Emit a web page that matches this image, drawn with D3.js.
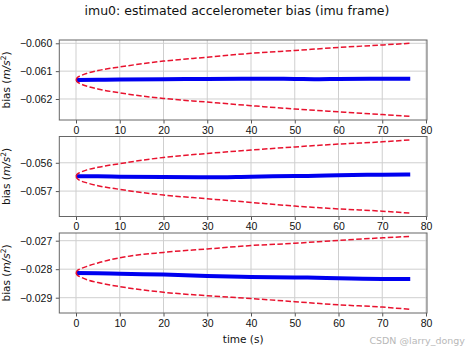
<!DOCTYPE html>
<html>
<head>
<meta charset="utf-8">
<script src="https://cdn.jsdelivr.net/npm/d3@7"></script>
<style>
  body { margin: 0; background: #fff; }
  svg { display: block; font-family: "DejaVu Sans", sans-serif; }
  .tick text { font-size: 10.5px; fill: #111; }
  .tick line { stroke: #555; }
  .grid line { stroke: #cfcfcf; stroke-width: 1; }
  .frame { fill: none; stroke: #666; stroke-width: 1; }
</style>
</head>
<body>
<svg id="chart" width="474" height="351"></svg>
<script>
/*** DATA ***/

// sample times for the estimate (blue) and the +/- bounds (red)
const tBlue = [0, 5, 10, 20, 30, 40, 50, 55, 60, 70, 76.4];
const tRed  = [0, 0.3, 1, 2.5, 5, 10, 20, 30, 40, 50, 60, 70, 76.4];

// axis 0
const est0   = [-0.06132, -0.06131, -0.06130, -0.06129, -0.06128, -0.06127, -0.06128, -0.06129, -0.06128, -0.06127, -0.06127];
const upper0 = [-0.06131, -0.06123, -0.06117, -0.06108, -0.06098, -0.06085, -0.06064, -0.06050, -0.06036, -0.06026, -0.06015, -0.06006, -0.06000];
const lower0 = [-0.06131, -0.06139, -0.06145, -0.06154, -0.06164, -0.06178, -0.06198, -0.06211, -0.06224, -0.06236, -0.06246, -0.06256, -0.06262];

// axis 1
const est1   = [-0.05648, -0.05648, -0.05649, -0.05650, -0.05651, -0.05649, -0.05647, -0.05646, -0.05644, -0.05642, -0.05641];
const upper1 = [-0.05648, -0.05640, -0.05634, -0.05625, -0.05616, -0.05603, -0.05581, -0.05567, -0.05555, -0.05544, -0.05534, -0.05526, -0.05519];
const lower1 = [-0.05648, -0.05656, -0.05663, -0.05671, -0.05681, -0.05694, -0.05714, -0.05727, -0.05740, -0.05753, -0.05763, -0.05771, -0.05778];

// axis 2
const est2   = [-0.02813, -0.02814, -0.02816, -0.02819, -0.02824, -0.02827, -0.02829, -0.02830, -0.02832, -0.02834, -0.02834];
const upper2 = [-0.02813, -0.02805, -0.02799, -0.02790, -0.02778, -0.02760, -0.02741, -0.02729, -0.02717, -0.02709, -0.02699, -0.02690, -0.02685];
const lower2 = [-0.02813, -0.02821, -0.02827, -0.02837, -0.02847, -0.02861, -0.02881, -0.02893, -0.02903, -0.02914, -0.02925, -0.02933, -0.02941];

// tick labels
const xTicks  = [0, 10, 20, 30, 40, 50, 60, 70, 80];
const yTicks0 = [-0.062, -0.061, -0.060];
const yTicks1 = [-0.057, -0.056];
const yTicks2 = [-0.029, -0.028, -0.027];

// visible y ranges of each panel
const yDomain0 = [-0.062754, -0.059882];
const yDomain1 = [-0.057898, -0.055071];
const yDomain2 = [-0.029537, -0.026730];

const title  = "imu0: estimated accelerometer bias (imu frame)";
const xLabel = "time (s)";

/*** LAYOUT ***/

let svg = d3.select("#chart");

let left = 59.3, right = 427,
    panel_h = 80,
    panel_tops = [40, 136.5, 233];

let x = d3.scaleLinear().domain([-3.82, 80.23]).range([left, right]);

let panels = [
    {est: est0, upper: upper0, lower: lower0, ticks: yTicks0, domain: yDomain0},
    {est: est1, upper: upper1, lower: lower1, ticks: yTicks1, domain: yDomain1},
    {est: est2, upper: upper2, lower: lower2, ticks: yTicks2, domain: yDomain2}
];

/*** HELPERS ***/

function render_panel(p, i) {
    let top = panel_tops[i];
    let y = d3.scaleLinear().domain(p.domain).range([top + panel_h, top]);
    let g = svg.append("g").attr("class", "panel");

    // grid
    g.append("g").attr("class", "grid")
        .selectAll("line.gx").data(xTicks).enter()
        .append("line")
        .attr("x1", (d) => x(d)).attr("x2", (d) => x(d))
        .attr("y1", top).attr("y2", top + panel_h);
    g.append("g").attr("class", "grid")
        .selectAll("line.gy").data(p.ticks).enter()
        .append("line")
        .attr("x1", left).attr("x2", right)
        .attr("y1", (d) => y(d)).attr("y2", (d) => y(d));

    // axes
    g.append("g")
        .attr("transform", `translate(0, ${top + panel_h})`)
        .call(d3.axisBottom(x).tickValues(xTicks).tickSize(3.5).tickPadding(3).tickFormat(d3.format("d")))
        .call((a) => a.select(".domain").remove());
    g.append("g")
        .attr("transform", `translate(${left}, 0)`)
        .call(d3.axisLeft(y).tickValues(p.ticks).tickSize(3.5).tickPadding(3.5).tickFormat(d3.format(".3f")))
        .call((a) => a.select(".domain").remove());

    // estimate
    let line_b = d3.line().x((d, j) => x(tBlue[j])).y((d) => y(d)).curve(d3.curveMonotoneX);
    g.append("path")
        .datum(p.est)
        .attr("d", line_b)
        .attr("fill", "none")
        .attr("stroke", "#0000f0")
        .attr("stroke-width", 4)
        .attr("stroke-linecap", "butt");

    // bounds
    let line_r = d3.line().x((d, j) => x(tRed[j])).y((d) => y(d)).curve(d3.curveMonotoneX);
    [p.upper, p.lower].forEach((s) => {
        g.append("path")
            .datum(s)
            .attr("d", line_r)
            .attr("fill", "none")
            .attr("stroke", "#e8122e")
            .attr("stroke-width", 1.5)
            .attr("stroke-dasharray", "5.5,2.4");
    });

    // frame
    g.append("rect").attr("class", "frame")
        .attr("x", left).attr("y", top)
        .attr("width", right - left).attr("height", panel_h);

    // y label (kept just inside the left edge)
    let lab = g.append("text")
        .attr("transform", `translate(9.5, ${top + panel_h / 2}) rotate(-90)`)
        .attr("text-anchor", "middle")
        .attr("font-size", "10.5px")
        .attr("fill", "#111");
    lab.append("tspan").text("bias (");
    lab.append("tspan").attr("font-style", "italic").text("m/s");
    lab.append("tspan").attr("font-size", "7.5px").attr("dy", "-4").text("2");
    lab.append("tspan").attr("dy", "4").text(")");
}

/*** DRAW ***/

panels.forEach(render_panel);

svg.append("text")
    .attr("x", 237).attr("y", 15)
    .attr("text-anchor", "middle")
    .attr("font-size", "12.5px")
    .attr("fill", "#111")
    .text(title);

svg.append("text")
    .attr("x", (left + right) / 2).attr("y", 343)
    .attr("text-anchor", "middle")
    .attr("font-size", "10.5px")
    .attr("fill", "#111")
    .text(xLabel);

svg.append("text")
    .attr("x", 465).attr("y", 344)
    .attr("text-anchor", "end")
    .attr("font-size", "9.5px")
    .attr("fill", "#b8b8b8")
    .text("CSDN @larry_dongy");
</script>
</body>
</html>
